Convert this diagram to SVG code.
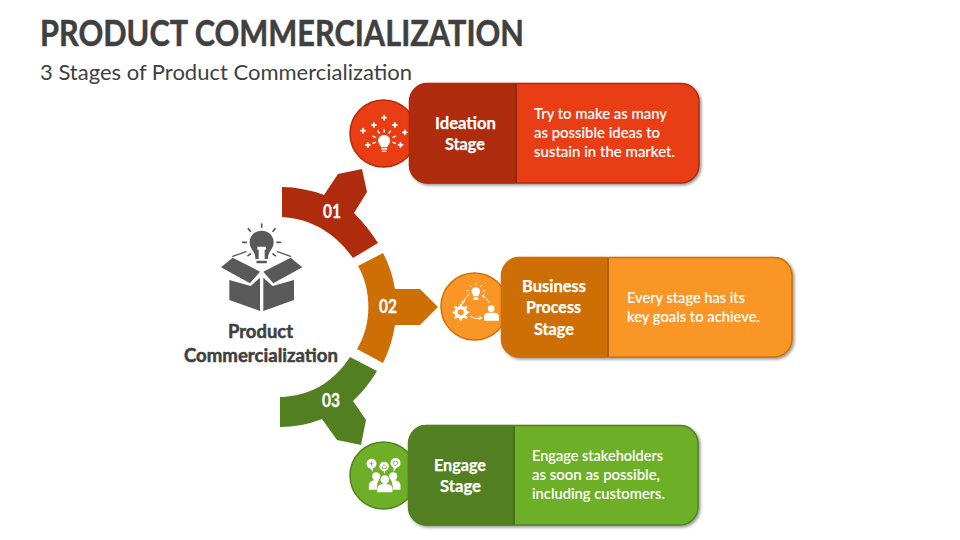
<svg xmlns="http://www.w3.org/2000/svg" width="960" height="540" viewBox="0 0 960 540">
<defs>
<style>
text{font-family:Lato,"Liberation Sans",sans-serif}
.t{font-weight:700;fill:#404040;stroke:#404040;stroke-width:.5}
.h{font-weight:700;fill:#fff;stroke:#fff;stroke-width:.25;font-size:17px}
.b{font-weight:500;fill:#fff;stroke:#fff;stroke-width:.12;font-size:15.5px}
.n{font-weight:700;fill:#fff;stroke:#fff;stroke-width:.3;font-size:18px}
.i{fill:#fff}
.il{fill:none;stroke:#fff;stroke-linecap:round}
.g{fill:#595959}
.gl{fill:none;stroke:#595959;stroke-width:5;stroke-linecap:round}
</style>
<filter id="sh" x="-5%" y="-8%" width="112%" height="120%"><feDropShadow dx="1.5" dy="1.5" stdDeviation="1.5" flood-color="#000" flood-opacity=".45"/></filter>
</defs>
<rect width="960" height="540" fill="#fff"/>
<text class="t" x="40" y="46" font-size="36" textLength="484" lengthAdjust="spacingAndGlyphs">PRODUCT COMMERCIALIZATION</text>
<text x="40" y="80" font-size="21" fill="#404040" textLength="372" lengthAdjust="spacingAndGlyphs">3 Stages of Product Commercialization</text>

<g id="center">
<g transform="translate(210 215) scale(.3333)">
<path class="g" d="M155 47c-22 0-36 16-36 35 0 14 8 22 13 31 3 6 4 11 4 19h10v-28h-4v-9h26v9h-4v28h10c0-8 1-13 4-19 5-9 13-17 13-31 0-19-14-35-36-35z"/>
<rect class="g" x="139" y="137" width="32" height="8" rx="3"/>
<path class="gl" d="M155 27v10M115 41l6 8M195 41l-6 8M98 82h11M201 82h11M114 122l7-5M196 122l-7-5"/>
<path class="g" d="M33 157L68 128L150 170L120 205zM277 157L242 128L160 170L190 205z"/>
<path class="gl" style="stroke-width:4" d="M68 124L108 110M242 124L202 110"/>
<path class="g" d="M58 195L122 213L150 188V288L58 255zM252 195L188 213L160 188V288L252 255z"/>
</g>
<text class="t" x="228" y="338" font-size="18" textLength="65" lengthAdjust="spacingAndGlyphs">Product</text>
<text class="t" x="184" y="362" font-size="18" textLength="154" lengthAdjust="spacingAndGlyphs">Commercialization</text>
</g>

<g id="segment-01">
<path fill="#AE2B0E" d="M282 187A122 122 0 0 1 324 195L338 174L362 169L367 192L354 213Q367 226 378 243L353 258C335 233 312 219 282 217Z"/>
<text class="n" x="323" y="218" textLength="18" lengthAdjust="spacingAndGlyphs">01</text>
</g>
<g id="segment-02">
<path fill="#CD6F05" d="M383 253Q392 270 395 289H420L438 307L420 325H395Q392 345 383 363L357 349C372 325 372 290 358 266Z"/>
<text class="n" x="379" y="313" textLength="18" lengthAdjust="spacingAndGlyphs">02</text>
</g>
<g id="segment-03">
<path fill="#528021" d="M350 357L377 371Q367 388 353 401L366 420L361 445L337 440L322 419Q302 427 280 427V397C310 396 333 383 350 357Z"/>
<text class="n" x="322" y="407" textLength="18" lengthAdjust="spacingAndGlyphs">03</text>
</g>

<g id="stage-ideation">
<circle cx="383.5" cy="133.5" r="33.5" fill="#E93D14" stroke="#AE2B0E" stroke-width="1.5"/>
<g transform="translate(345.5 95) scale(.3333)">
<path class="il" stroke-width="5.5" d="M116 62v12M110 68h12M53 101v12M47 107h12M85 84v12M79 90h12M148 84v12M142 90h12M178 106v12M172 112h12M67 144v12M61 150h12M165 144v12M159 150h12"/>
<path class="il" stroke-width="4" d="M116 103v8M97 108l5 7M135 108l-5 7M82 124l8 3M150 124l-8 3M82 145l8-3M150 145l-8-3"/>
<path class="i" d="M116 120c-11 0-18 8-18 17 0 8 6 12 9 20h18c3-8 9-12 9-20 0-9-7-17-18-17z"/>
<rect class="i" x="107" y="160" width="18" height="4" rx="1"/><rect class="i" x="109" y="167" width="14" height="4" rx="1"/>
</g>
<rect x="409.5" y="83.5" width="289.5" height="99.5" rx="18" fill="#E93D14" stroke="#AE2B0E" stroke-width="1.5" filter="url(#sh)"/>
<path d="M427.5 83H515V183.5H427.5A18 18 0 0 1 409.5 165.5V101A18 18 0 0 1 427.5 83Z" fill="#AE2B0E"/>
<rect x="515" y="84" width="2" height="99" fill="#8F2A10"/>
<text class="h" x="435" y="129" textLength="61" lengthAdjust="spacingAndGlyphs">Ideation</text>
<text class="h" x="445" y="150" textLength="40" lengthAdjust="spacingAndGlyphs">Stage</text>
<text class="b" x="534" y="119" textLength="133" lengthAdjust="spacingAndGlyphs">Try to make as many</text>
<text class="b" x="534" y="138" textLength="126" lengthAdjust="spacingAndGlyphs">as possible ideas to</text>
<text class="b" x="534" y="157" textLength="141" lengthAdjust="spacingAndGlyphs">sustain in the market.</text>
</g>

<g id="stage-business">
<circle cx="474.5" cy="306.5" r="33.5" fill="#FA9625" stroke="#CD6F05" stroke-width="1.5"/>
<g transform="translate(438.5 268) scale(.3333)">
<path class="i" d="M112 58c-8 0-13 6-13 12 0 6 4 9 6 15h14c2-6 6-9 6-15 0-6-5-12-13-12z"/>
<rect class="i" x="105" y="88" width="14" height="8" rx="1"/>
<path class="il" stroke-width="2.5" d="M112 46v5M95 52l3 4M129 52l-3 4M85 68h6M133 68h6"/>
<path class="il" stroke-width="3" d="M93 78Q78 88 72 108M78 99l-6 9l-2-10M133 82Q147 92 153 104M137 80l-4 2l1 6M96 146Q112 156 130 150M124 146l6 4l-7 4"/>
<circle cx="67" cy="133" r="14" fill="none" stroke="#fff" stroke-width="10"/>
<path class="il" stroke-width="7" d="M67 111v5M67 150v5M45 133h5M84 133h5M51 117l4 4M79 145l4 4M51 149l4-4M79 121l4-4"/>
<circle class="i" cx="158" cy="122" r="10"/>
<path class="i" d="M137 158V146Q137 134 149 134H169Q181 134 181 146V158Z"/>
</g>
<rect x="501.5" y="257.5" width="290.5" height="99.5" rx="18" fill="#FA9625" stroke="#CD6F05" stroke-width="1.5" filter="url(#sh)"/>
<path d="M519.5 257H607V357.5H519.5A18 18 0 0 1 501.5 339.5V275A18 18 0 0 1 519.5 257Z" fill="#CD6F05"/>
<rect x="607" y="258" width="2" height="99" fill="#A86212"/>
<text class="h" x="522" y="292" textLength="64" lengthAdjust="spacingAndGlyphs">Business</text>
<text class="h" x="526" y="313" textLength="55" lengthAdjust="spacingAndGlyphs">Process</text>
<text class="h" x="534" y="335" textLength="40" lengthAdjust="spacingAndGlyphs">Stage</text>
<text class="b" x="627" y="303" textLength="118" lengthAdjust="spacingAndGlyphs">Every stage has its</text>
<text class="b" x="627" y="322" textLength="133" lengthAdjust="spacingAndGlyphs">key goals to achieve.</text>
</g>

<g id="stage-engage">
<circle cx="383.5" cy="475.5" r="33.5" fill="#6DAF27" stroke="#528021" stroke-width="1.5"/>
<g transform="translate(345.5 438) scale(.3333)">
<circle class="i" cx="78" cy="77" r="15"/><path class="i" d="M72 88L82 88L82 102Z"/>
<circle class="i" cx="116" cy="85" r="14"/><path class="i" d="M112 94L120 94L117 108Z"/>
<circle class="i" cx="150" cy="75" r="15"/><path class="i" d="M144 86L154 88L144 102Z"/>
<path fill="none" stroke="#6DAF27" stroke-width="2.5" d="M78 71v12M72 77h12M110 86L116 80L122 86V91H110ZM143 72Q150 68 157 72Q156 80 150 84Q144 80 143 72Z"/>
<circle class="i" cx="92" cy="115" r="12"/><circle class="i" cx="143" cy="115" r="12"/>
<path class="i" d="M70 155V140Q72 128 90 126H100Q94 135 94 155ZM165 155V140Q163 128 145 126H136Q142 135 142 155Z"/>
<circle class="i" cx="118" cy="125" r="13"/>
<path class="i" d="M95 163V152Q97 139 110 138H126Q139 139 141 152V163Z"/>
</g>
<rect x="408.5" y="425.5" width="289.5" height="99.5" rx="18" fill="#6DAF27" stroke="#528021" stroke-width="1.5" filter="url(#sh)"/>
<path d="M426.5 425H513V525.5H426.5A18 18 0 0 1 408.5 507.5V443A18 18 0 0 1 426.5 425Z" fill="#528021"/>
<rect x="513" y="426" width="2" height="99" fill="#47721B"/>
<text class="h" x="434" y="471" textLength="52" lengthAdjust="spacingAndGlyphs">Engage</text>
<text class="h" x="440" y="492" textLength="41" lengthAdjust="spacingAndGlyphs">Stage</text>
<text class="b" x="532" y="461" textLength="131" lengthAdjust="spacingAndGlyphs">Engage stakeholders</text>
<text class="b" x="532" y="480" textLength="128" lengthAdjust="spacingAndGlyphs">as soon as possible,</text>
<text class="b" x="532" y="499" textLength="133" lengthAdjust="spacingAndGlyphs">including customers.</text>
</g>
</svg>
